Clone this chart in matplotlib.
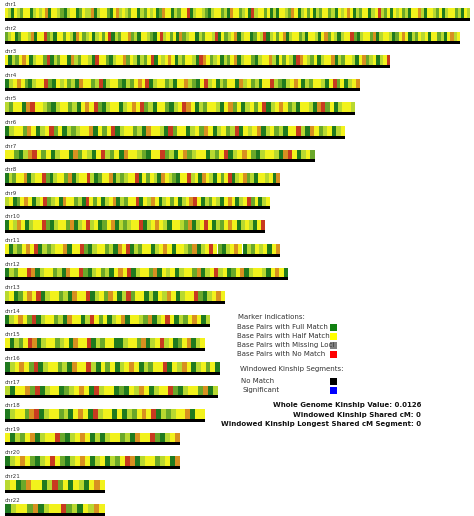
import matplotlib
matplotlib.use("Agg")
import matplotlib.pyplot as plt
from matplotlib.patches import Rectangle

chroms = [f"chr{i}" for i in range(1, 23)]
lengths = [465, 455, 385, 355, 350, 340, 310, 275, 265, 260, 275, 283, 220, 205, 200, 215, 213, 200, 175, 175, 100, 100]
patterns = [
    "ylGylgyyGlylyoGyylgGlyyGgylloGlyygGyolylgyyGlgylyGgoyyGlgyyrGlyylgGlyyglGoyyglyGrlyygyGlGyylgoyGlygyGlgyyglGylyoyGlgyyGlyrlgyGylyglGyyolGyylgyGlyyglGyl",
    "glyGgyyloGyyrglGyygylGoyglyGlygyrGlgyyoglGyylgGyrlygyGoglyyGlgyylrGyglyoGlyyGgylrGlygyoGlyyglGyylGyogylGlyyrgGlyygoGlyylGgyoyGlgylyGyyglGyoly",
    "yGlgyoyGlyygrGlgyyGolgyylGryygGlyyogylGlgyrGylyoyGlgyylGroyglyGlgyoGlyygGlyyolGygylGroylgyGlyyoGlgyylGyoglyGlyr",
    "GlyoygGlyyrgGylyglGoyyglrGlyygGlgyoyrGlyyglGyyolgGyrlyGlgyyGolyglGyyrlgGlyoyGlgyylGyrgyGlyo",
    "lgyyGoryylgGlyyglGyoyrgGlyyGlyoyrglGyygGlyroyGlgyylGyogyGlygyrGlyoyglGyylGorgyGlyyl",
    "GlyygoyGlyrgyGlglyyoGygyrGlyyglGoyylGrgyyGlygoyGlyglrGylyoGlyglGyyrlGoyglyGly",
    "yygGlorygyGlyyGogylGyrlgyGoyylgGyyrglGyoglyyGlgyrGlyoygGlyylGoryGlyg",
    "GlgyyoGlyyrgGlyygoGlyyrlGgyyoGlglyyrGygylGoylgGyyrlyGoylGygyrGlyoglGyylyGo",
    "lyGgyoyGlyrglyGoyyglGrygyGlyoGlgyyrGyloyGlygyGlyoryGlgylGyoyGlyrgyGly",
    "GyloyGlyyrgGlyygoGlyrlyGgyoGlglyyrGlyoylGyylgoGlyryGlgyoyGlylGyr",
    "yGlgyoyrGlglyyoGyyrgGlyyglGoyrGlgyyGlyoyGyylgoGlyrygGlyoyGlgylyGyo",
    "GlgyyroGlyyglGoyyrgGlyglGyoyrGlyygoGylyGlyygoGlyrlyGgyoGlyylGyoyG",
    "lyGgyoyrGlyyglGoyyrGlygoyGlrgyyGlGyloyGlyyrgGlyoy",
    "GlyoygrGlyyglGoyyGlrygyGlyoGyylgoGlyryGlgyoyGl",
    "yGlgyroGlyyglyGoyyrGlgyyGGlyygoGlyrlyGgyoGly",
    "GlyoygrGlyyglGoyyrlGygyGlyoyGlgyyrGyloyGlygyG",
    "lGyyogrGlyyGglyoyGrlyyGgGyloyGlyyrgGlyygoGl",
    "GlyygorGlyyglGyoyGrlyyGyGlgyoyrGlglyyoGyy",
    "yGlgyoGlyyrgGlyoyGlGlyyglGoyyrgGlyo",
    "GlyoygGlyrygGlyoyGlyGlgyroGlyyglyGo",
    "lyGgoyyGlrgyGylGyoy",
    "GlyygoGlyyrglGyloy",
]
color_map = {"G": "#1f7a1f", "g": "#6aa82a", "l": "#b8d830", "y": "#f2f21c",
             "o": "#d89020", "r": "#c83a20"}

legend_labels = ["Base Pairs with Full Match", "Base Pairs with Half Match",
                 "Base Pairs with Missing Loci", "Base Pairs with No Match"]
legend_colors = ["#108010", "#ffff00", "#808080", "#ff0000"]
seg_labels = ["No Match", "Significant"]
seg_colors = ["#000000", "#0000ff"]
summary = ["Whole Genome Kinship Value: 0.0126", "Windowed Kinship Shared cM: 0",
           "Windowed Kinship Longest Shared cM Segment: 0"]

fig = plt.figure(figsize=(4.74, 5.16), dpi=100)
ax = fig.add_axes([0, 0, 1, 1])
ax.set_xlim(0, 474)
ax.set_ylim(516, 0)
ax.axis("off")

x0 = 5
row = 23.6
for i, (name, L, pat) in enumerate(zip(chroms, lengths, patterns)):
    top = 8 + i * row
    ax.text(x0, top - 1, name, fontsize=4, va="bottom", ha="left", color="#333333")
    w = L / len(pat)
    for j, c in enumerate(pat):
        ax.add_patch(Rectangle((x0 + j * w, top), w, 9.5, color=color_map[c], lw=0))
    ax.add_patch(Rectangle((x0, top + 9.5), L, 3, color="black", lw=0))

lx = 237
for k, (lab, col) in enumerate(zip(legend_labels, legend_colors)):
    y = 327 + k * 9
    ax.text(lx, y, lab, fontsize=5, va="center", color="#333333")
    ax.add_patch(Rectangle((330, y - 3.5), 7, 7, color=col, lw=0))
ax.text(238, 317, "Marker indications:", fontsize=5, va="center", color="#333333")
ax.text(240, 369, "Windowed Kinship Segments:", fontsize=5, va="center", color="#333333")
for k, (lab, col) in enumerate(zip(seg_labels, seg_colors)):
    y = 381 + k * 9
    ax.text(241 + 2 * k, y, lab, fontsize=5, va="center", color="#333333")
    ax.add_patch(Rectangle((330, y - 3.5), 7, 7, color=col, lw=0))
for k, s in enumerate(summary):
    ax.text(421, 405 + k * 9.5, s, fontsize=5, va="center", ha="right", weight="bold", color="#111111")

fig.savefig("out.png", dpi=100)
